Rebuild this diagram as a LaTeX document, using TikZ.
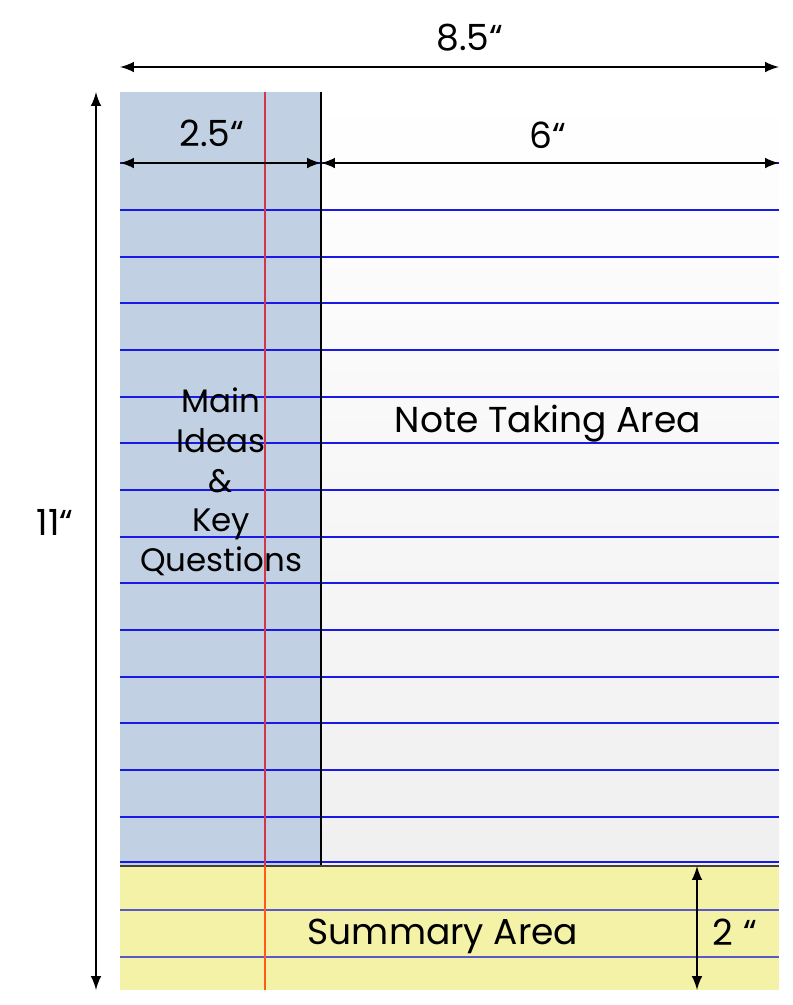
\documentclass[tikz,border=0pt]{standalone}
\usepackage{fontspec}
\setmainfont{Poppins}
\usetikzlibrary{arrows}
\definecolor{cuecol}{HTML}{C1D0E3}
\definecolor{sumcol}{HTML}{F4F2A6}
\definecolor{rulecol}{HTML}{1A1AE6}
\definecolor{sumrule}{HTML}{5A5AC6}
\definecolor{margincol}{HTML}{D0384A}
\definecolor{marginsum}{HTML}{FF5A1A}
\tikzstyle{label} = [font=\fontsize{20.5}{24}\selectfont, text=black, inner sep=0pt]
\tikzstyle{ruling} = [draw=rulecol, line width=1.3pt]
\tikzstyle{sumruling} = [draw=sumrule, line width=1.3pt]
\tikzstyle{dim} = [<->,>=latex, line width=1.7pt]

\begin{document}
\begin{tikzpicture}[x=0.02cm,y=-0.02cm]
    \useasboundingbox (0,0) rectangle (793,1005);
    % areas of the page
    \fill[cuecol] (120,92) rectangle (321,865);
    \shade[top color=white, bottom color=gray!12] (321,92) rectangle (779,865);
    \fill[sumcol] (120,866) rectangle (779,990);

    % ruled lines
    \draw[ruling] (120,163) -- (779,163);
    \draw[ruling] (120,210) -- (779,210);
    \draw[ruling] (120,257) -- (779,257);
    \draw[ruling] (120,303) -- (779,303);
    \draw[ruling] (120,350) -- (779,350);
    \draw[ruling] (120,397) -- (779,397);
    \draw[ruling] (120,443) -- (779,443);
    \draw[ruling] (120,490) -- (779,490);
    \draw[ruling] (120,537) -- (779,537);
    \draw[ruling] (120,583) -- (779,583);
    \draw[ruling] (120,630) -- (779,630);
    \draw[ruling] (120,677) -- (779,677);
    \draw[ruling] (120,723) -- (779,723);
    \draw[ruling] (120,770) -- (779,770);
    \draw[ruling] (120,817) -- (779,817);
    \draw[ruling] (120,862) -- (779,862);
    \draw[sumruling] (120,910) -- (779,910);
    \draw[sumruling] (120,957) -- (779,957);
    \draw[draw=black!85!yellow, line width=1.6pt] (120,866) -- (779,866);

    % margin and cue column border
    \draw[margincol, line width=1.1pt] (265,92) -- (265,866);
    \draw[marginsum, line width=1.1pt] (265,866) -- (265,990);
    \draw[black, line width=1.7pt] (321,92) -- (321,865);

    % dimension ends
    \coordinate (pageL) at (120,67);
    \coordinate (pageR) at (779,67);
    \coordinate (pageT) at (96,92);
    \coordinate (pageB) at (96,990);
    \coordinate (cueL) at (120,163);
    \coordinate (cueR) at (321,163);
    \coordinate (noteR) at (779,163);
    \coordinate (sumT) at (697,866);
    \coordinate (sumB) at (697,990);

    \draw[dim] (pageL) -- (pageR);
    \draw[dim] (pageT) -- (pageB);
    \draw[dim] (cueL) -- (cueR);
    \draw[dim] (cueR) -- (noteR);
    \draw[dim] (sumT) -- (sumB);

    \node at (470,38) [label] (wlabel) {8.5“};
    \node at (55,522) [label] (hlabel) {11“};
    \node at (212,133) [label] (cuelabel) {2.5“};
    \node at (548,135) [label] (notelabel) {6“};
    \node at (735,932) [label] (sumlabel) {2 “};

    \node at (548,424) [label] (notearea) {Note Taking Area};
    \node at (221,482) [label, align=center, font=\fontsize{18.5}{22.6}\selectfont] (cuearea) {Main\\Ideas\\\&\\Key\\Questions};
    \node at (443,936) [label] (sumarea) {Summary Area};
\end{tikzpicture}
\end{document}
